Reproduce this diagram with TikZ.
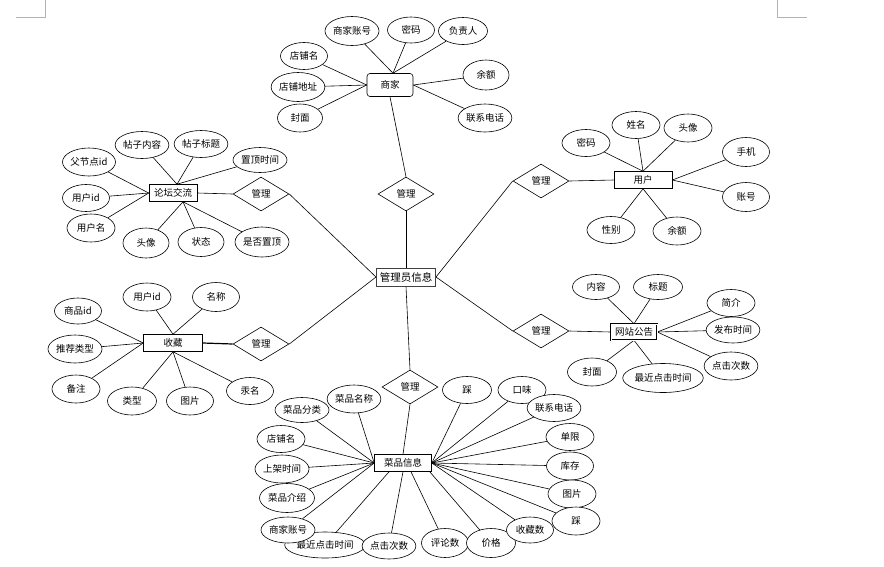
\documentclass[tikz,border=0pt]{standalone}
\usepackage{fontspec}
\setmainfont{Noto Sans CJK SC}
\usetikzlibrary{shapes.geometric}
\pgfdeclarelayer{bg}
\pgfsetlayers{bg,main}
\begin{document}
\begin{tikzpicture}[x=1pt,y=-1pt,
  font=\fontsize{9.5}{11}\selectfont,
  every path/.style={line width=0.6pt},
  attr/.style={ellipse,draw,fill=white,inner sep=0pt,minimum width=48,minimum height=27},
  ent/.style={rectangle,draw,fill=white,inner sep=0pt,minimum width=48,minimum height=17},
  mainent/.style={rectangle,draw,fill=white,inner sep=0pt,minimum width=59,minimum height=18,line width=1pt,draw=black!75,font=\fontsize{10.5}{12}\selectfont},
  rel/.style={diamond,draw,fill=white,inner sep=0pt,minimum width=56,minimum height=34},
  link/.style={draw=black,line width=0.6pt},
  cornermark/.style={draw=black!30,line width=0.6pt}]
\useasboundingbox (0,0) rectangle (884,566);

% page corner marks
\draw[cornermark] (16,17) -- (45,17) -- (45,0);
\draw[cornermark] (777,0) -- (777,17) -- (807,17);

% main entity and relations
\node[mainent] (m) at (406,277) {管理员信息};
\node[rel] (d1) at (406,194) {管理};
\node[rel] (d2) at (261,194) {管理};
\node[rel] (d3) at (541,181) {管理};
\node[rel] (d4) at (261,344) {管理};
\node[rel] (d5) at (541,331) {管理};
\node[rel] (d6) at (410,387) {管理};

% entities
\node[ent,rounded corners=3pt,minimum width=46,minimum height=23] (shop) at (390,85) {商家};
\node[ent,minimum width=48] (forum) at (173,193) {论坛交流};
\node[ent,minimum width=58] (user) at (643,180) {用户};
\node[ent,minimum width=59] (fav) at (173,343) {收藏};
\node[ent,minimum width=46,minimum height=16,double,double distance=0.5pt] (notice) at (634,332) {网站公告};
\node[ent,minimum width=57] (dish) at (403,463) {菜品信息};

% shop attributes
\node[attr,minimum width=54,minimum height=29] (s1) at (352,31) {商家账号};
\node[attr,minimum width=47,minimum height=26] (s2) at (411,30) {密码};
\node[attr,minimum width=49] (s3) at (463,31) {负责人};
\node[attr,minimum width=47] (s4) at (304,56) {店铺名};
\node[attr,minimum width=53,minimum height=29] (s5) at (298,87) {店铺地址};
\node[attr,minimum width=45,minimum height=28] (s6) at (300,118) {封面};
\node[attr,minimum width=46,minimum height=30] (s7) at (486,75) {余额};
\node[attr,minimum width=51,minimum height=28] (s8) at (485,118) {联系电话};

% forum attributes
\node[attr,minimum width=53,minimum height=28] (f1) at (89,162) {父节点id};
\node[attr,minimum width=46] (f2) at (142,145) {帖子内容};
\node[attr,minimum width=46] (f3) at (201,144) {帖子标题};
\node[attr,minimum width=54,minimum height=25] (f4) at (260,160) {置顶时间};
\node[attr,minimum width=47] (f5) at (86,198) {用户id};
\node[attr,minimum width=48,minimum height=28] (f6) at (91,228) {用户名};
\node[attr,minimum width=46,minimum height=30] (f7) at (146,243) {头像};
\node[attr,minimum width=46,minimum height=29] (f8) at (201,242) {状态};
\node[attr,minimum width=54,minimum height=30] (f9) at (262,242) {是否置顶};

% user attributes
\node[attr] (u1) at (586,143) {密码};
\node[attr] (u2) at (636,125) {姓名};
\node[attr,minimum height=28] (u3) at (688,128) {头像};
\node[attr,minimum width=47,minimum height=29] (u4) at (746,152) {手机};
\node[attr,minimum width=47,minimum height=29] (u5) at (746,197) {账号};
\node[attr] (u6) at (611,230) {性别};
\node[attr,minimum height=28] (u7) at (677,231) {余额};

% favourite attributes
\node[attr,minimum width=47,minimum height=26] (c1) at (78,311) {商品id};
\node[attr,minimum height=28] (c2) at (147,297) {用户id};
\node[attr,minimum width=47,minimum height=29] (c3) at (216,297) {名称};
\node[attr,minimum width=54,minimum height=28] (c4) at (75,349) {推荐类型};
\node[attr,minimum height=28] (c5) at (76,389) {备注};
\node[attr,minimum width=49,minimum height=28] (c6) at (132,401) {类型};
\node[attr,minimum width=47,minimum height=28] (c7) at (190,401) {图片};
\node[attr,minimum width=47] (c8) at (250,391) {汞名};

% notice attributes
\node[attr,minimum width=47,minimum height=25] (n1) at (596,287) {内容};
\node[attr,minimum width=49,minimum height=25] (n2) at (658,287) {标题};
\node[attr] (n3) at (731,303) {简介};
\node[attr,minimum width=53,minimum height=26] (n4) at (733,330) {发布时间};
\node[attr,minimum width=53,minimum height=28] (n5) at (731,366) {点击次数};
\node[attr,minimum width=49,minimum height=28] (n6) at (592,372) {封面};
\node[attr,minimum width=70,minimum height=29] (n7) at (663,378) {最近点击时间};

% dish attributes
\node[attr,minimum width=54,minimum height=25] (p1) at (302,410) {菜品分类};
\node[attr,minimum width=52,minimum height=28] (p2) at (354,399) {菜品名称};
\node[attr] (p3) at (281,439) {店铺名};
\node[attr,minimum width=54,minimum height=28] (p4) at (282,469) {上架时间};
\node[attr,minimum width=55,minimum height=29] (p5) at (287,498) {菜品介绍};
\node[attr,minimum width=75,minimum height=26] (p7) at (325,545) {最近点击时间};
\node[attr,minimum width=54,minimum height=26] (p6) at (288,530) {商家账号};
\node[attr,minimum width=51,minimum height=26] (p8) at (389,546) {点击次数};
\node[attr,minimum width=47,minimum height=29] (p9) at (445,543) {评论数};
\node[attr,minimum width=49,minimum height=29] (p10) at (491,543) {价格};
\node[attr,minimum width=47,minimum height=26] (p11) at (530,530) {收藏数};
\node[attr,minimum width=49] (p12) at (467,390) {踩};
\node[attr] (p13) at (522,390) {口味};
\node[attr,minimum width=45] (p14) at (554,408) {联系电话};
\node[attr] (p15) at (570,437) {单限};
\node[attr,minimum width=47,minimum height=28] (p16) at (570,466) {库存};
\node[attr,minimum height=28] (p17) at (572,494) {图片};
\node[attr,minimum height=28] (p18) at (576,521) {踩};

\begin{pgfonlayer}{bg}
% main structure
\draw[link] (shop.south) -- (d1.north);
\draw[link] (d1.south) -- (m.north);
\draw[link] (forum.east) -- (d2.west);
\draw[link] (d2.east) -- (m.west);
\draw[link] (user.west) -- (d3.east);
\draw[link] (d3.west) -- (m.east);
\draw[link,line width=1.2pt] (fav.east) -- (d4.west);
\draw[link] (d4.east) -- (m.west);
\draw[link] (notice.west) -- (d5.east);
\draw[link] (d5.west) -- (m.east);
\draw[link] (m.south) -- (d6.north);
\draw[link] (d6.south) -- (dish.north);

% shop
\foreach \a in {s1,s2,s3} \draw[link] (\a) -- ([xshift=3pt]shop.north);
\foreach \a in {s4,s5,s6} \draw[link] (\a) -- (shop.west);
\foreach \a in {s7,s8} \draw[link] (\a) -- (shop.east);
% forum
\foreach \a in {f1,f5,f6} \draw[link] (\a) -- (forum.west);
\foreach \a in {f2,f3,f4} \draw[link] (\a) -- ([xshift=4pt]forum.north);
\foreach \a in {f7,f8,f9} \draw[link] (\a) -- ([xshift=10pt]forum.south);
% user
\foreach \a in {u1,u2,u3} \draw[link] (\a) -- (user.north);
\foreach \a in {u4,u5} \draw[link] (\a) -- (user.east);
\foreach \a in {u6,u7} \draw[link] (\a) -- (user.south);
% favourite
\foreach \a in {c1,c4,c5} \draw[link] (\a) -- (fav.west);
\foreach \a in {c2,c3} \draw[link] (\a) -- (fav.north);
\foreach \a in {c6,c7,c8} \draw[link] (\a) -- (fav.south);
% notice
\foreach \a in {n1,n2} \draw[link] (\a) -- (notice.north);
\foreach \a in {n3,n4,n5} \draw[link] (\a) -- (notice.east);
\foreach \a in {n6,n7} \draw[link] (\a) -- (notice.south);
% dish
\foreach \a in {p1,p2,p3,p4,p5,p6} \draw[link] (\a) -- (dish.west);
\draw[link] (p7) -- ([xshift=-14pt]dish.south);
\draw[link] (p8) -- (dish.south);
\draw[link] (p9) -- ([xshift=8pt]dish.south);
\draw[link] (p10) -- ([xshift=-2pt]dish.south east);
\foreach \a in {p11,p12,p13,p14,p15,p16,p17,p18} \draw[link] (\a) -- (dish.east);
\end{pgfonlayer}
\end{tikzpicture}
\end{document}
